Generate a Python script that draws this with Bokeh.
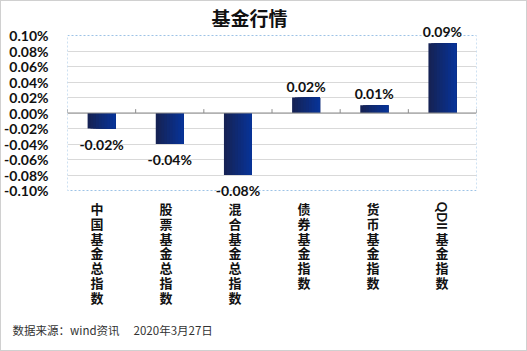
from bokeh.plotting import figure
from bokeh.layouts import column
from bokeh.models import (FactorRange, Range1d, PrintfTickFormatter, FixedTicker, Label,
                          ColumnDataSource)
from bokeh.transform import dodge
from bokeh.embed import file_html
from bokeh.resources import INLINE
from bokeh.core.properties import value

title = "基金行情"
categories = ["中国基金总指数", "股票基金总指数", "混合基金总指数", "债券基金指数", "货币基金指数", "QDII基金指数"]
values = [-0.02, -0.04, -0.08, 0.02, 0.01, 0.09]
value_labels = ["-0.02%", "-0.04%", "-0.08%", "0.02%", "0.01%", "0.09%"]
y_ticks = [-0.10, -0.08, -0.06, -0.04, -0.02, 0.0, 0.02, 0.04, 0.06, 0.08, 0.10]
footnote = "数据来源：wind资讯\u3000 2020年3月27日"

# ---- layout geometry (page pixels) ----
W = 525                 # inner width (1px border each side)
TOP_H = 197             # upper figure (title + plot)
BOT_H = 152             # lower figure (category labels + footnote)
FL, FR = 61, 475        # plot-area left/right inside figure
PT, PB = 34, 189        # plot-area top/bottom (value 0.10 / -0.10)
ppu = (PB - PT) / 0.20  # pixels per unit
CAT_W = (FR - FL) / len(categories)

y0 = -0.10 - (TOP_H - PB) / ppu
y1 = 0.10 + PT / ppu

p = figure(width=W, height=TOP_H, x_range=FactorRange(*categories), y_range=Range1d(y0, y1),
           output_backend="svg", toolbar_location=None,
           min_border_left=FL, min_border_right=W - FR, min_border_top=0, min_border_bottom=0)
p.background_fill_color = "white"
p.border_fill_color = "white"
p.outline_line_color = None
p.xaxis.visible = False
p.frame_align = False

src = ColumnDataSource(dict(cat=categories, val=values, lab=value_labels))

# dashed plot-area border
nc = len(categories)
p.quad(left=[0], right=[nc], bottom=[y_ticks[0]], top=[y_ticks[-1]], fill_color=None,
       line_color="#9dc3e6", line_dash="2 2", line_width=1)

# gradient bars simulated by overlapping strips
bar_w = 0.41
n = 10
c0 = (0x15, 0x22, 0x55)
c1 = (0x08, 0x33, 0x96)
for i in range(n):
    t = i / (n - 1)
    col = "#%02x%02x%02x" % tuple(int(round(a + (b - a) * t)) for a, b in zip(c0, c1))
    left = -bar_w / 2 + bar_w * i / n
    right = bar_w / 2
    p.vbar(x=dodge("cat", (left + right) / 2, range=p.x_range), top="val", bottom=0,
           width=right - left, source=src, fill_color=col, line_color=None)

# zero line and category boundary ticks
p.segment(x0=[0], x1=[nc], y0=[0], y1=[0], line_color="#8c8c8c", line_width=1.2)
bx = list(range(0, nc + 1))
p.segment(x0=bx, x1=bx, y0=[0] * len(bx), y1=[0.005] * len(bx), line_color="#8c8c8c", line_width=1)

# data labels
pos = ColumnDataSource({k: [v for v, c in zip(src.data[k], values) if c >= 0] for k in ["cat", "val", "lab"]})
neg = ColumnDataSource({k: [v for v, c in zip(src.data[k], values) if c < 0] for k in ["cat", "val", "lab"]})
p.text(x="cat", y="val", text="lab", source=pos, text_align="center", text_baseline="bottom",
       y_offset=-3, text_font=value("Lato"), text_font_style="bold", text_font_size="14px",
       text_color="#111111")
p.text(x="cat", y="val", text="lab", source=neg, text_align="center", text_baseline="top",
       y_offset=7, text_font=value("Lato"), text_font_style="bold", text_font_size="14px",
       text_color="#111111")

# y axis
p.yaxis.ticker = FixedTicker(ticks=y_ticks)
p.yaxis.formatter = PrintfTickFormatter(format="%.2f%%")
p.yaxis.axis_line_color = None
p.yaxis.major_tick_line_color = None
p.yaxis.minor_tick_line_color = None
p.yaxis.major_label_standoff = 13
p.yaxis.major_label_text_font = "Lato"
p.yaxis.major_label_text_font_style = "bold"
p.yaxis.major_label_text_font_size = "14px"
p.yaxis.major_label_text_color = "#111111"
p.ygrid.ticker = FixedTicker(ticks=y_ticks[1:-1])
p.ygrid.grid_line_color = "#d9d9d9"
p.xgrid.grid_line_color = None

# title
p.add_layout(Label(x=243 - FL, y=TOP_H - 16, x_units="screen", y_units="screen", text=title,
                   text_align="center", text_baseline="middle", text_font="Noto Sans CJK SC",
                   text_font_style="bold", text_font_size="19px", text_color="#111111"))

# ---- lower figure: vertical category labels and footnote ----
q = figure(width=W, height=BOT_H, x_range=Range1d(-FL / CAT_W, (W - FL) / CAT_W),
           y_range=Range1d(BOT_H, 0), output_backend="svg", toolbar_location=None,
           min_border_left=0, min_border_right=0, min_border_top=0, min_border_bottom=0)
q.axis.visible = False
q.grid.visible = False
q.outline_line_color = None
q.background_fill_color = "white"
q.border_fill_color = "white"
q.frame_align = False

step = 14.8
first = 10
cx, cy, ct = [], [], []
for i, c in enumerate(categories):
    chars = list(c)
    line0 = 0
    if c.startswith("QDII"):
        q.text(x=[i + 0.5], y=[first + step * 0.5], text=[c[:4]], angle=-1.5708, text_align="center",
               text_baseline="middle", text_font=value("Lato"), text_font_style="bold",
               text_font_size="13px", text_color="#111111")
        chars = chars[4:]
        line0 = 2
    for j, ch in enumerate(chars):
        cx.append(i + 0.5)
        cy.append(first + step * (j + line0))
        ct.append(ch)
q.text(x=cx, y=cy, text=ct, text_align="center", text_baseline="middle",
       text_font=value("Noto Sans CJK SC"), text_font_style="bold", text_font_size="13px",
       text_color="#111111")

q.text(x=[(11 - FL) / CAT_W], y=[131], text=[footnote], text_align="left", text_baseline="middle",
       text_font=value("Noto Sans CJK SC"), text_font_size="11.5px", text_color="#333333")

layout = column(p, q, spacing=0, styles={"border": "1px solid #d0d0d0", "background": "white"})
open("out.html", "w").write(file_html(layout, INLINE))
